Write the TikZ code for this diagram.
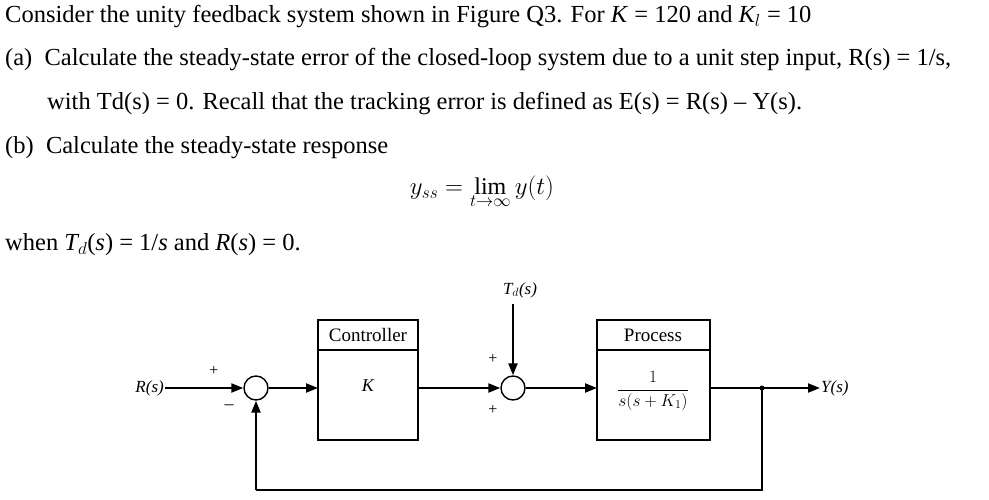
\documentclass[tikz,border=0pt]{standalone}
\usepackage{fontspec}
\setmainfont{Liberation Serif}
\usetikzlibrary{arrows.meta}
\begin{document}
\begin{tikzpicture}[x=1pt,y=-1pt,
  txt/.style={anchor=west,inner sep=0,font=\fontsize{24.5}{28}\selectfont},
  blk/.style={draw,line width=1.6pt},
  sig/.style={line width=2.2pt,-{Triangle[length=12pt,width=9pt]}},
  ln/.style={line width=2.2pt},
  sm/.style={draw,circle,minimum size=24pt,inner sep=0,line width=1.4pt},
  lab/.style={font=\fontsize{17}{19}\selectfont\itshape,inner sep=1pt}]
\useasboundingbox (0,0) rectangle (989,499);
\node[txt] (t1) at (5,17) {Consider the unity feedback system shown in Figure Q3. For \textit{K} = 120 and \textit{K$_l$} = 10};
\node[txt] (t2) at (5,60) {(a)\ \ Calculate the steady-state error of the closed-loop system due to a unit step input, R(s) = 1/s,};
\node[txt] (t3) at (47,104) {with Td(s) = 0. Recall that the tracking error is defined as E(s) = R(s) -- Y(s).};
\node[txt] (t4) at (5,148) {(b)\ \ Calculate the steady-state response};
\node[inner sep=0,font=\fontsize{24}{28}\selectfont] (eq) at (482,192) {$y_{ss}=\lim\limits_{t\to\infty} y(t)$};
\node[txt] (t5) at (5,245) {when \textit{T$_d$}(\textit{s}) = 1/\textit{s} and \textit{R}(\textit{s}) = 0.};
% diagram
\node[sm] (s1) at (256,388) {};
\node[sm] (s2) at (513,388) {};
\draw[blk] (318,320) rectangle (418,440);
\draw[blk] (318,350) -- (418,350);
\node[font=\fontsize{19}{21}\selectfont] (cl) at (368,335) {Controller};
\node[font=\fontsize{18}{20}\selectfont\itshape] (k) at (368,386) {K};
\coordinate (cin) at (318,388); \coordinate (cout) at (418,388);
\draw[blk] (597,320) rectangle (710,440);
\draw[blk] (597,350) -- (710,350);
\node[font=\fontsize{19}{21}\selectfont] (pl) at (653,335) {Process};
\node[font=\fontsize{17}{19}\selectfont] (pn) at (653,391) {$\displaystyle\frac{1}{s(s+K_1)}$};
\coordinate (pin) at (597,388); \coordinate (pout) at (710,388);
\node[lab,anchor=east] (r) at (165,388) {R(s)};
\node[lab,anchor=west] (y) at (820,388) {Y(s)};
\node[lab] (td) at (520,290) {T$_d$(s)};
\coordinate (tdt) at (513,304);
\coordinate (br) at (762,388);
\coordinate (fb) at (762,490);
\coordinate (fb2) at (s1 |- fb);
\draw[sig] (r.east) -- (s1.west);
\draw[sig] (s1.east) -- (cin);
\draw[sig] (cout) -- (s2.west);
\draw[sig] (s2.east) -- (pin);
\draw[sig] (tdt) -- (s2.north);
\draw[sig] (pout) -- (y.west);
\draw[ln] (br) -- (fb) -- (fb2);
\draw[sig] (fb2) -- (s1.south);
\fill (br) circle (2.5pt);
\node[font=\fontsize{16}{16}\selectfont] (p1) at (214,371) {+};
\node[font=\fontsize{18}{16}\selectfont] (m1) at (229,407) {--};
\node[font=\fontsize{16}{16}\selectfont] (p2) at (493,359) {+};
\node[font=\fontsize{16}{16}\selectfont] (p3) at (493,410) {+};
\end{tikzpicture}
\end{document}
